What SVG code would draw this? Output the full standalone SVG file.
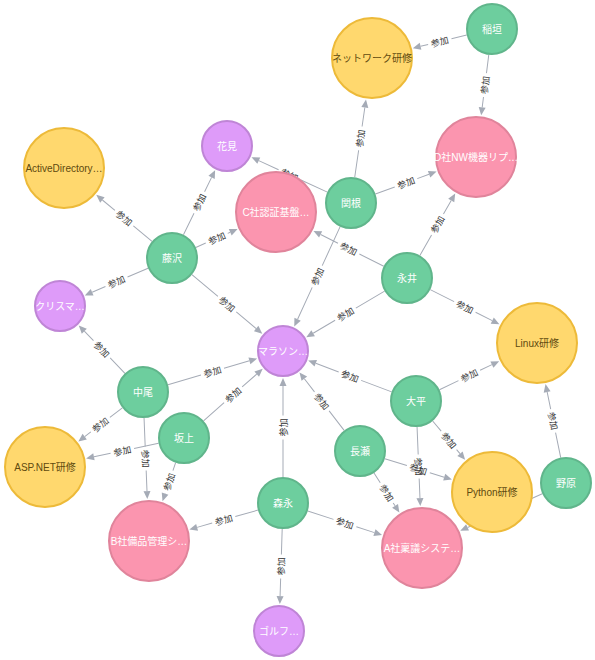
<svg xmlns="http://www.w3.org/2000/svg" width="595" height="660" viewBox="0 0 595 660">
<style>
.e .l{stroke:#A5ABB6;stroke-width:1;fill:none}
.e .a{fill:#A5ABB6}
.e text{font-family:"Noto Sans CJK JP",sans-serif;font-size:9px;fill:#333;text-anchor:middle;dominant-baseline:central}
.n circle{stroke-width:2}
.n text{font-family:"Liberation Sans","Noto Sans CJK JP",sans-serif;font-size:10px;text-anchor:middle;dominant-baseline:central;fill:#fff}
.p circle{fill:#6DCE9E;stroke:#60B58B}
.y circle{fill:#FFD86E;stroke:#EDBA39}
.y text{fill:#604A0E}
.k circle{fill:#FB95AF;stroke:#E0849B}
.v circle{fill:#DE9BF9;stroke:#BF85D6}
</style>
<rect width="595" height="660" fill="#fff"/>
<g id="connectors">
<g class="e" transform="translate(492,29) rotate(166.41)"><path class="l" d="M26 0H41.7M65.7 0H73.5"/><path class="a" d="M81.5 0L73.5 -3.5L73.5 3.5Z"/><text x="53.7" y="0" transform="rotate(180 53.7 0)">参加</text></g>
<g class="e" transform="translate(492,29) rotate(97.13)"><path class="l" d="M26 0H44.5M68.5 0H79"/><path class="a" d="M87 0L79 -3.5L79 3.5Z"/><text x="56.5" y="0" transform="rotate(180 56.5 0)">参加</text></g>
<g class="e" transform="translate(351,203) rotate(-81.76)"><path class="l" d="M26 0H53.3M77.3 0H96.5"/><path class="a" d="M104.5 0L96.5 -3.5L96.5 3.5Z"/><text x="65.3" y="0">参加</text></g>
<g class="e" transform="translate(351,203) rotate(-20.2)"><path class="l" d="M26 0H46.6M70.6 0H83.2"/><path class="a" d="M91.2 0L83.2 -3.5L83.2 3.5Z"/><text x="58.6" y="0">参加</text></g>
<g class="e" transform="translate(351,203) rotate(-155.31)"><path class="l" d="M26 0H55.7M79.7 0H101.5"/><path class="a" d="M109.5 0L101.5 -3.5L101.5 3.5Z"/><text x="67.7" y="0" transform="rotate(180 67.7 0)">参加</text></g>
<g class="e" transform="translate(351,203) rotate(114.68)"><path class="l" d="M26 0H68.9M92.9 0H127.9"/><path class="a" d="M135.9 0L127.9 -3.5L127.9 3.5Z"/><text x="80.9" y="0" transform="rotate(180 80.9 0)">参加</text></g>
<g class="e" transform="translate(407,278) rotate(-153.26)"><path class="l" d="M26 0H53.3M77.3 0H96.7"/><path class="a" d="M104.7 0L96.7 -3.5L96.7 3.5Z"/><text x="65.3" y="0" transform="rotate(180 65.3 0)">参加</text></g>
<g class="e" transform="translate(407,278) rotate(-60.31)"><path class="l" d="M26 0H49.6M73.6 0H89.3"/><path class="a" d="M97.3 0L89.3 -3.5L89.3 3.5Z"/><text x="61.6" y="0">参加</text></g>
<g class="e" transform="translate(407,278) rotate(149.52)"><path class="l" d="M26 0H59.4M83.4 0H108.9"/><path class="a" d="M116.9 0L108.9 -3.5L108.9 3.5Z"/><text x="71.4" y="0" transform="rotate(180 71.4 0)">参加</text></g>
<g class="e" transform="translate(407,278) rotate(26.57)"><path class="l" d="M26 0H52.7M76.7 0H95.3"/><path class="a" d="M103.3 0L95.3 -3.5L95.3 3.5Z"/><text x="64.7" y="0">参加</text></g>
<g class="e" transform="translate(172,258) rotate(-140.19)"><path class="l" d="M26 0H50.3M74.3 0H90.6"/><path class="a" d="M98.6 0L90.6 -3.5L90.6 3.5Z"/><text x="62.3" y="0" transform="rotate(180 62.3 0)">参加</text></g>
<g class="e" transform="translate(172,258) rotate(-63.84)"><path class="l" d="M26 0H49.9M73.9 0H89.8"/><path class="a" d="M97.8 0L89.8 -3.5L89.8 3.5Z"/><text x="61.9" y="0">参加</text></g>
<g class="e" transform="translate(172,258) rotate(-23.86)"><path class="l" d="M26 0H36.9M60.9 0H63.7"/><path class="a" d="M71.7 0L63.7 -3.5L63.7 3.5Z"/><text x="48.9" y="0">参加</text></g>
<g class="e" transform="translate(172,258) rotate(156.8)"><path class="l" d="M26 0H48.4M72.4 0H86.9"/><path class="a" d="M94.9 0L86.9 -3.5L86.9 3.5Z"/><text x="60.4" y="0" transform="rotate(180 60.4 0)">参加</text></g>
<g class="e" transform="translate(172,258) rotate(39.96)"><path class="l" d="M26 0H59.9M83.9 0H109.8"/><path class="a" d="M117.8 0L109.8 -3.5L109.8 3.5Z"/><text x="71.9" y="0">参加</text></g>
<g class="e" transform="translate(143,392) rotate(-133.98)"><path class="l" d="M26 0H47.3M71.3 0H84.5"/><path class="a" d="M92.5 0L84.5 -3.5L84.5 3.5Z"/><text x="59.3" y="0" transform="rotate(180 59.3 0)">参加</text></g>
<g class="e" transform="translate(143,392) rotate(-16.32)"><path class="l" d="M26 0H60.4M84.4 0H110.9"/><path class="a" d="M118.9 0L110.9 -3.5L110.9 3.5Z"/><text x="72.4" y="0">参加</text></g>
<g class="e" transform="translate(143,392) rotate(142.57)"><path class="l" d="M26 0H41.7M65.7 0H73.4"/><path class="a" d="M81.4 0L73.4 -3.5L73.4 3.5Z"/><text x="53.7" y="0" transform="rotate(180 53.7 0)">参加</text></g>
<g class="e" transform="translate(143,392) rotate(87.69)"><path class="l" d="M26 0H54.6M78.6 0H99.1"/><path class="a" d="M107.1 0L99.1 -3.5L99.1 3.5Z"/><text x="66.6" y="0">参加</text></g>
<g class="e" transform="translate(184,438) rotate(-41.31)"><path class="l" d="M26 0H53.4M77.4 0H96.8"/><path class="a" d="M104.8 0L96.8 -3.5L96.8 3.5Z"/><text x="65.4" y="0">参加</text></g>
<g class="e" transform="translate(184,438) rotate(168.21)"><path class="l" d="M26 0H51M75 0H92"/><path class="a" d="M100 0L92 -3.5L92 3.5Z"/><text x="63" y="0" transform="rotate(180 63 0)">参加</text></g>
<g class="e" transform="translate(184,438) rotate(108.77)"><path class="l" d="M26 0H34.4M58.4 0H58.8"/><path class="a" d="M66.8 0L58.8 -3.5L58.8 3.5Z"/><text x="46.4" y="0" transform="rotate(180 46.4 0)">参加</text></g>
<g class="e" transform="translate(283,503) rotate(-90)"><path class="l" d="M26 0H63.5M87.5 0H117"/><path class="a" d="M125 0L117 -3.5L117 3.5Z"/><text x="75.5" y="0">参加</text></g>
<g class="e" transform="translate(283,503) rotate(164.17)"><path class="l" d="M26 0H49.6M73.6 0H89.3"/><path class="a" d="M97.3 0L89.3 -3.5L89.3 3.5Z"/><text x="61.6" y="0" transform="rotate(180 61.6 0)">参加</text></g>
<g class="e" transform="translate(283,503) rotate(17.94)"><path class="l" d="M26 0H53.1M77.1 0H96.1"/><path class="a" d="M104.1 0L96.1 -3.5L96.1 3.5Z"/><text x="65.1" y="0">参加</text></g>
<g class="e" transform="translate(283,503) rotate(91.79)"><path class="l" d="M26 0H51.5M75.5 0H93.1"/><path class="a" d="M101.1 0L93.1 -3.5L93.1 3.5Z"/><text x="63.5" y="0" transform="rotate(180 63.5 0)">参加</text></g>
<g class="e" transform="translate(360,451) rotate(-127.59)"><path class="l" d="M26 0H50.6M74.6 0H91.2"/><path class="a" d="M99.2 0L91.2 -3.5L91.2 3.5Z"/><text x="62.6" y="0" transform="rotate(180 62.6 0)">参加</text></g>
<g class="e" transform="translate(360,451) rotate(17.26)"><path class="l" d="M26 0H49.1M73.1 0H88.2"/><path class="a" d="M96.2 0L88.2 -3.5L88.2 3.5Z"/><text x="61.1" y="0">参加</text></g>
<g class="e" transform="translate(360,451) rotate(57.41)"><path class="l" d="M26 0H37.6M61.6 0H65.1"/><path class="a" d="M73.1 0L65.1 -3.5L65.1 3.5Z"/><text x="49.6" y="0">参加</text></g>
<g class="e" transform="translate(416,401) rotate(-159.4)"><path class="l" d="M26 0H58.6M82.6 0H107.1"/><path class="a" d="M115.1 0L107.1 -3.5L107.1 3.5Z"/><text x="70.6" y="0" transform="rotate(180 70.6 0)">参加</text></g>
<g class="e" transform="translate(416,401) rotate(-25.61)"><path class="l" d="M26 0H47.1M71.1 0H84.2"/><path class="a" d="M92.2 0L84.2 -3.5L84.2 3.5Z"/><text x="59.1" y="0">参加</text></g>
<g class="e" transform="translate(416,401) rotate(50.13)"><path class="l" d="M26 0H39.3M63.3 0H68.6"/><path class="a" d="M76.6 0L68.6 -3.5L68.6 3.5Z"/><text x="51.3" y="0">参加</text></g>
<g class="e" transform="translate(416,401) rotate(87.66)"><path class="l" d="M26 0H53.6M77.6 0H97.1"/><path class="a" d="M105.1 0L97.1 -3.5L97.1 3.5Z"/><text x="65.6" y="0">参加</text></g>
<g class="e" transform="translate(566,483) rotate(-101.7)"><path class="l" d="M26 0H51.5M75.5 0H93"/><path class="a" d="M101 0L93 -3.5L93 3.5Z"/><text x="63.5" y="0" transform="rotate(180 63.5 0)">参加</text></g>
<g class="e" transform="translate(566,483) rotate(155.71)"><path class="l" d="M26 0H59M83 0H108"/><path class="a" d="M116 0L108 -3.5L108 3.5Z"/><text x="71" y="0" transform="rotate(180 71 0)">参加</text></g>
</g>
<g id="n-inagaki" class="n p"><circle cx="492" cy="29" r="25"/><text x="492" y="29">稲垣</text></g>
<g id="n-network" class="n y"><circle cx="372" cy="58" r="40"/><text x="372" y="58">ネットワーク研修</text></g>
<g id="n-dsha" class="n k"><circle cx="476" cy="157" r="40"/><text x="476" y="157">D社NW機器リプ…</text></g>
<g id="n-sekine" class="n p"><circle cx="351" cy="203" r="25"/><text x="351" y="203">関根</text></g>
<g id="n-hanami" class="n v"><circle cx="227" cy="146" r="25"/><text x="227" y="146">花見</text></g>
<g id="n-csha" class="n k"><circle cx="276" cy="212" r="40"/><text x="276" y="212">C社認証基盤…</text></g>
<g id="n-ad" class="n y"><circle cx="64" cy="168" r="40"/><text x="64" y="168">ActiveDirectory…</text></g>
<g id="n-fujisawa" class="n p"><circle cx="172" cy="258" r="25"/><text x="172" y="258">藤沢</text></g>
<g id="n-nagai" class="n p"><circle cx="407" cy="278" r="25"/><text x="407" y="278">永井</text></g>
<g id="n-xmas" class="n v"><circle cx="60" cy="306" r="25"/><text x="60" y="306">クリスマ…</text></g>
<g id="n-marathon" class="n v"><circle cx="283" cy="351" r="25"/><text x="283" y="351">マラソン…</text></g>
<g id="n-linux" class="n y"><circle cx="537" cy="343" r="40"/><text x="537" y="343">Linux研修</text></g>
<g id="n-nakao" class="n p"><circle cx="143" cy="392" r="25"/><text x="143" y="392">中尾</text></g>
<g id="n-ohira" class="n p"><circle cx="416" cy="401" r="25"/><text x="416" y="401">大平</text></g>
<g id="n-sakaue" class="n p"><circle cx="184" cy="438" r="25"/><text x="184" y="438">坂上</text></g>
<g id="n-nagase" class="n p"><circle cx="360" cy="451" r="25"/><text x="360" y="451">長瀬</text></g>
<g id="n-aspnet" class="n y"><circle cx="45" cy="467" r="40"/><text x="45" y="467">ASP.NET研修</text></g>
<g id="n-nohara" class="n p"><circle cx="566" cy="483" r="25"/><text x="566" y="483">野原</text></g>
<g id="n-python" class="n y"><circle cx="492" cy="492" r="40"/><text x="492" y="492">Python研修</text></g>
<g id="n-morinaga" class="n p"><circle cx="283" cy="503" r="25"/><text x="283" y="503">森永</text></g>
<g id="n-bsha" class="n k"><circle cx="149" cy="541" r="40"/><text x="149" y="541">B社備品管理シ…</text></g>
<g id="n-asha" class="n k"><circle cx="422" cy="548" r="40"/><text x="422" y="548">A社稟議システ…</text></g>
<g id="n-golf" class="n v"><circle cx="279" cy="631" r="25"/><text x="279" y="631">ゴルフ…</text></g>
</svg>
